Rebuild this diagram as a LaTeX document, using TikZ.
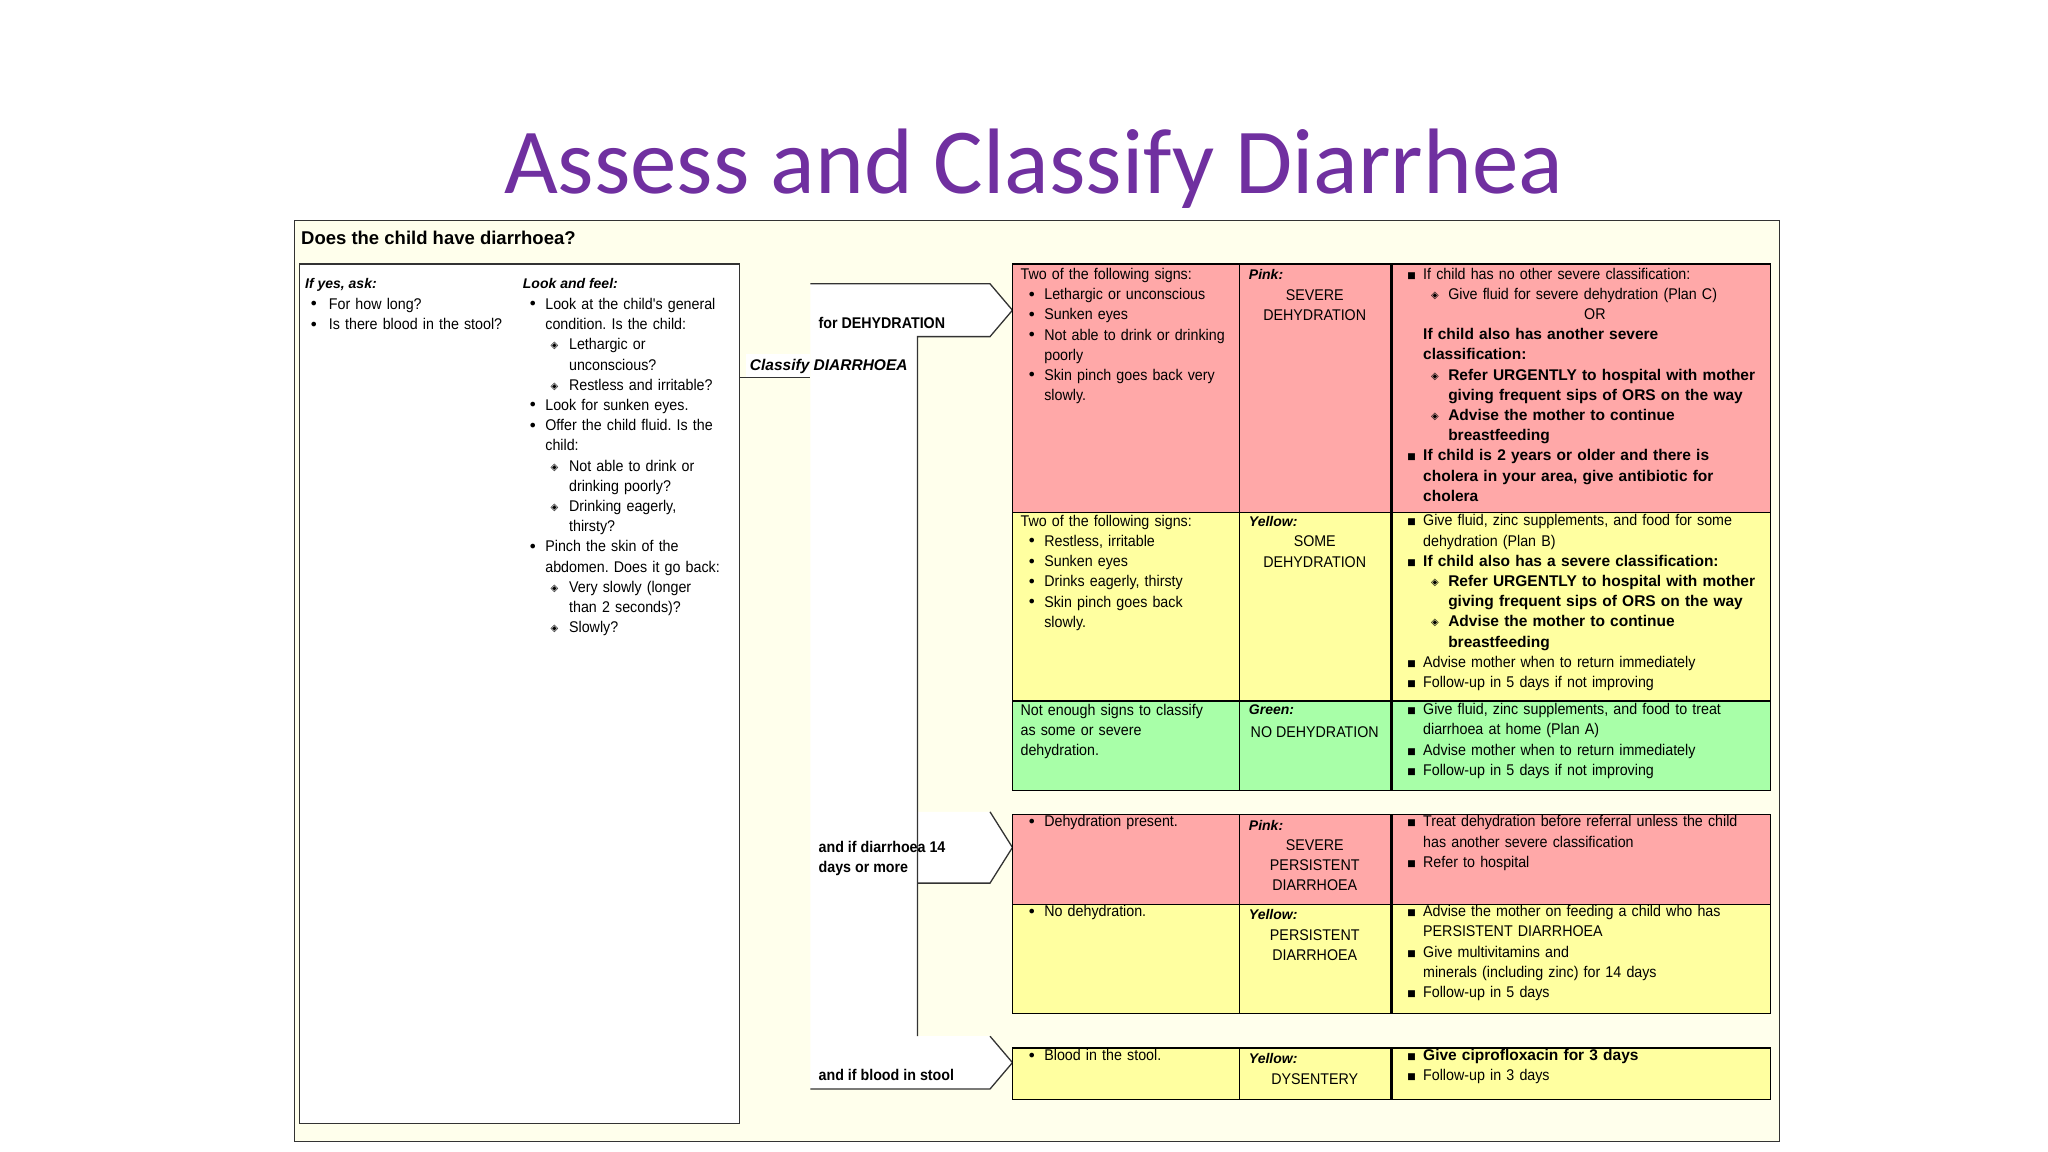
\documentclass[tikz,border=0pt]{standalone}
\usepackage{fontspec}
\setmainfont{Liberation Sans}
\newfontfamily\rn[FakeStretch=0.92]{Liberation Sans}
\newfontfamily\bn[FakeStretch=1.0]{Liberation Sans}
\newfontfamily\ttl{Carlito}
\newfontfamily\djv{DejaVu Sans}
\newdimen\myU \myU=1.32pt
\definecolor{pinkc}{RGB}{255,168,168}
\definecolor{yelc}{RGB}{255,255,160}
\definecolor{grnc}{RGB}{168,255,168}
\definecolor{paper}{RGB}{255,255,236}
\definecolor{ttlc}{RGB}{112,48,160}
\newcommand\itm[4]{\par\hangindent=\dimexpr#1\myU+#2\myU\relax\hangafter=1\noindent\hspace*{#1\myU}\makebox[#2\myU][l]{#3}{#4}}
\newcommand\bul{\raisebox{-0.5pt}{\djv\fontsize{16}{16}\selectfont •}}
\newcommand\sq{\raisebox{1pt}{\djv\fontsize{9}{9}\selectfont ■}}
\newcommand\dm{\raisebox{1pt}{\djv\fontsize{10}{10}\selectfont ◈}}
\tikzset{
  txt/.style={anchor=north west,inner sep=0pt,text width=#1\myU,align=left,font=\frenchspacing\rn\fontsize{15.5}{20.2}\selectfont},
  txt/.default=300,
  ctr/.style={anchor=north,inner sep=0pt,align=center,font=\rn\fontsize{15.5}{20.2}\selectfont},
  hdr/.style={anchor=north west,inner sep=0pt,font=\bn\bfseries\itshape\fontsize{14}{18}\selectfont},
  cell/.style={draw=black,line width=1.3pt},
  thick sep/.style={line width=2.8pt},
  frame/.style={draw=black!80,line width=1.3pt},
  con/.style={draw=black!80,line width=1.3pt},
}
\begin{document}
\begin{tikzpicture}[x=1.32pt,y=-1.32pt]
\useasboundingbox[fill=white] (0,0) rectangle (1551.5,872.7);
% title
\node[font=\ttl\fontsize{93}{100}\selectfont,text=ttlc] (title) at (783,128) {Assess and Classify Diarrhea};
% outer frame
\filldraw[frame,fill=paper] (223,167) rectangle (1348,865);
\node[anchor=west,inner sep=0pt,font=\bfseries\fontsize{18.5}{22}\selectfont] (q) at (228,180) {Does the child have diarrhoea?};
% left box
\filldraw[frame,fill=white] (227,200) rectangle (560,851);
\node[hdr] (ask) at (231,211) {If yes, ask:};
\node[txt=160] (askl) at (231,219) {\itm{3}{15}{\bul}{For how long?}\itm{3}{15}{\bul}{Is there blood in the stool?}\par};
\node[hdr] (look) at (396,211) {Look and feel:};
\node[txt=170] (lookl) at (396,219) {%
\itm{4}{13}{\bul}{Look at the child's general\newline condition. Is the child:}%
\itm{21}{14}{\dm}{Lethargic or\newline unconscious?}%
\itm{21}{14}{\dm}{Restless and irritable?}%
\itm{4}{13}{\bul}{Look for sunken eyes.}%
\itm{4}{13}{\bul}{Offer the child fluid. Is the\newline child:}%
\itm{21}{14}{\dm}{Not able to drink or\newline drinking poorly?}%
\itm{21}{14}{\dm}{Drinking eagerly,\newline thirsty?}%
\itm{4}{13}{\bul}{Pinch the skin of the\newline abdomen. Does it go back:}%
\itm{21}{14}{\dm}{Very slowly (longer\newline than 2 seconds)?}%
\itm{21}{14}{\dm}{Slowly?}\par};
% white connector area
\fill[white] (614,215) -- (750,215) -- (767,235) -- (750,255) -- (695,255) -- (695,615) -- (750,615) -- (767,642) -- (750,669) -- (695,669) -- (695,785) -- (750,785) -- (767,805) -- (750,825) -- (614,825) -- cycle;
\fill[white] (565,268) rectangle (614,286);
% connectors
\coordinate (c0) at (560,268); \coordinate (c1) at (560,286); \coordinate (c2) at (614,286);
\draw[con] (c0) -- (c1) -- (c2);
\node[anchor=west,inner sep=0pt,font=\bn\bfseries\itshape\fontsize{15.5}{18}\selectfont] (classify) at (568,278) {Classify DIARRHOEA};
\coordinate (a1) at (614,215); \coordinate (a2) at (750,215); \coordinate (a3) at (767,235); \coordinate (a4) at (750,255); \coordinate (a5) at (695,255);
\coordinate (b1) at (750,615); \coordinate (b2) at (767,642); \coordinate (b3) at (750,669); \coordinate (b4) at (695,669);
\coordinate (d1) at (750,785); \coordinate (d2) at (767,805); \coordinate (d3) at (750,825); \coordinate (d4) at (614,825);
\coordinate (v1) at (695,785);
\draw[con] (a1) -- (a2) -- (a3) -- (a4) -- (a5) -- (v1);
\draw[con] (b1) -- (b2) -- (b3) -- (b4);
\draw[con] (d1) -- (d2) -- (d3) -- (d4);
\node[anchor=west,inner sep=0pt,font=\rn\bfseries\fontsize{15.5}{20}\selectfont] (fdeh) at (620,245) {for DEHYDRATION};
\node[anchor=north west,inner sep=0pt,align=left,font=\rn\bfseries\fontsize{15.5}{20}\selectfont] (f14) at (620,637) {and if diarrhoea 14\\days or more};
\node[anchor=west,inner sep=0pt,font=\rn\bfseries\fontsize{15.5}{20}\selectfont] (fbl) at (620,814) {and if blood in stool};
% table fills
\fill[pinkc] (767,200) rectangle (1341,388);
\fill[yelc] (767,388) rectangle (1341,531);
\fill[grnc] (767,531) rectangle (1341,599);
\fill[pinkc] (767,617) rectangle (1341,685);
\fill[yelc] (767,685) rectangle (1341,768);
\fill[yelc] (767,794) rectangle (1341,833);
% grid
\draw[cell] (767,200) rectangle (1341,599);
\draw[cell] (767,388) -- (1341,388) (767,531) -- (1341,531) (939,200) -- (939,599);
\draw[cell,thick sep] (1054,200) -- (1054,599);
\draw[cell] (767,617) rectangle (1341,768);
\draw[cell] (767,685) -- (1341,685) (939,617) -- (939,768);
\draw[cell,thick sep] (1054,617) -- (1054,768);
\draw[cell] (767,794) rectangle (1341,833);
\draw[cell] (939,794) -- (939,833);
\draw[cell,thick sep] (1054,794) -- (1054,833);
% row 1
\node[txt=170] (r1a) at (773,203) {Two of the following signs:%
\itm{5}{13}{\bul}{Lethargic or unconscious}\itm{5}{13}{\bul}{Sunken eyes}%
\itm{5}{13}{\bul}{Not able to drink or drinking\newline poorly}\itm{5}{13}{\bul}{Skin pinch goes back very\newline slowly.}\par};
\node[hdr] (r1h) at (946,204) {Pink:};
\node[ctr] (r1b) at (996,219) {SEVERE\\DEHYDRATION};
\node[txt=290] (r1c) at (1066,196) {%
\itm{0}{12}{\sq}{If child has no other severe classification:}%
\itm{18}{13}{\dm}{Give fluid for severe dehydration (Plan C)}%
\par\noindent\hspace*{134\myU}OR%
\itm{12}{0}{}{\bn\bfseries If child also has another severe\newline classification:}%
\itm{18}{13}{\dm}{\bn\bfseries Refer URGENTLY to hospital with mother\newline giving frequent sips of ORS on the way}%
\itm{18}{13}{\dm}{\bn\bfseries Advise the mother to continue\newline breastfeeding}%
\itm{0}{12}{\sq}{\bn\bfseries If child is 2 years or older and there is\newline cholera in your area, give antibiotic for\newline cholera}\par};
% row 2
\node[txt=170] (r2a) at (773,390) {Two of the following signs:%
\itm{5}{13}{\bul}{Restless, irritable}\itm{5}{13}{\bul}{Sunken eyes}%
\itm{5}{13}{\bul}{Drinks eagerly, thirsty}\itm{5}{13}{\bul}{Skin pinch goes back\newline slowly.}\par};
\node[hdr] (r2h) at (946,391) {Yellow:};
\node[ctr] (r2b) at (996,406) {SOME\\DEHYDRATION};
\node[txt=290] (r2c) at (1066,383) {%
\itm{0}{12}{\sq}{Give fluid, zinc supplements, and food for some\newline dehydration (Plan B)}%
\itm{0}{12}{\sq}{\bn\bfseries If child also has a severe classification:}%
\itm{18}{13}{\dm}{\bn\bfseries Refer URGENTLY to hospital with mother\newline giving frequent sips of ORS on the way}%
\itm{18}{13}{\dm}{\bn\bfseries Advise the mother to continue\newline breastfeeding}%
\itm{0}{12}{\sq}{Advise mother when to return immediately}%
\itm{0}{12}{\sq}{Follow-up in 5 days if not improving}\par};
% row 3
\node[txt=170] (r3a) at (773,533) {Not enough signs to classify\\as some or severe\\dehydration.};
\node[hdr] (r3h) at (946,534) {Green:};
\node[ctr] (r3b) at (996,550) {NO DEHYDRATION};
\node[txt=290] (r3c) at (1066,526) {%
\itm{0}{12}{\sq}{Give fluid, zinc supplements, and food to treat\newline diarrhoea at home (Plan A)}%
\itm{0}{12}{\sq}{Advise mother when to return immediately}%
\itm{0}{12}{\sq}{Follow-up in 5 days if not improving}\par};
% block 2
\node[txt=170] (p1a) at (773,611) {\itm{5}{13}{\bul}{Dehydration present.}\par};
\node[hdr] (p1h) at (946,621) {Pink:};
\node[ctr] (p1b) at (996,636) {SEVERE\\PERSISTENT\\DIARRHOEA};
\node[txt=290] (p1c) at (1066,611) {%
\itm{0}{12}{\sq}{Treat dehydration before referral unless the child\newline has another severe classification}%
\itm{0}{12}{\sq}{Refer to hospital}\par};
\node[txt=170] (p2a) at (773,679) {\itm{5}{13}{\bul}{No dehydration.}\par};
\node[hdr] (p2h) at (946,689) {Yellow:};
\node[ctr] (p2b) at (996,704) {PERSISTENT\\DIARRHOEA};
\node[txt=290] (p2c) at (1066,679) {%
\itm{0}{12}{\sq}{Advise the mother on feeding a child who has\newline PERSISTENT DIARRHOEA}%
\itm{0}{12}{\sq}{Give multivitamins and\newline minerals (including zinc) for 14 days}%
\itm{0}{12}{\sq}{Follow-up in 5 days}\par};
% block 3
\node[txt=170] (q1a) at (773,788) {\itm{5}{13}{\bul}{Blood in the stool.}\par};
\node[hdr] (q1h) at (946,798) {Yellow:};
\node[ctr] (q1b) at (996,813) {DYSENTERY};
\node[txt=290] (q1c) at (1066,788) {%
\itm{0}{12}{\sq}{\bn\bfseries Give ciprofloxacin for 3 days}%
\itm{0}{12}{\sq}{Follow-up in 3 days}\par};
\end{tikzpicture}
\end{document}
